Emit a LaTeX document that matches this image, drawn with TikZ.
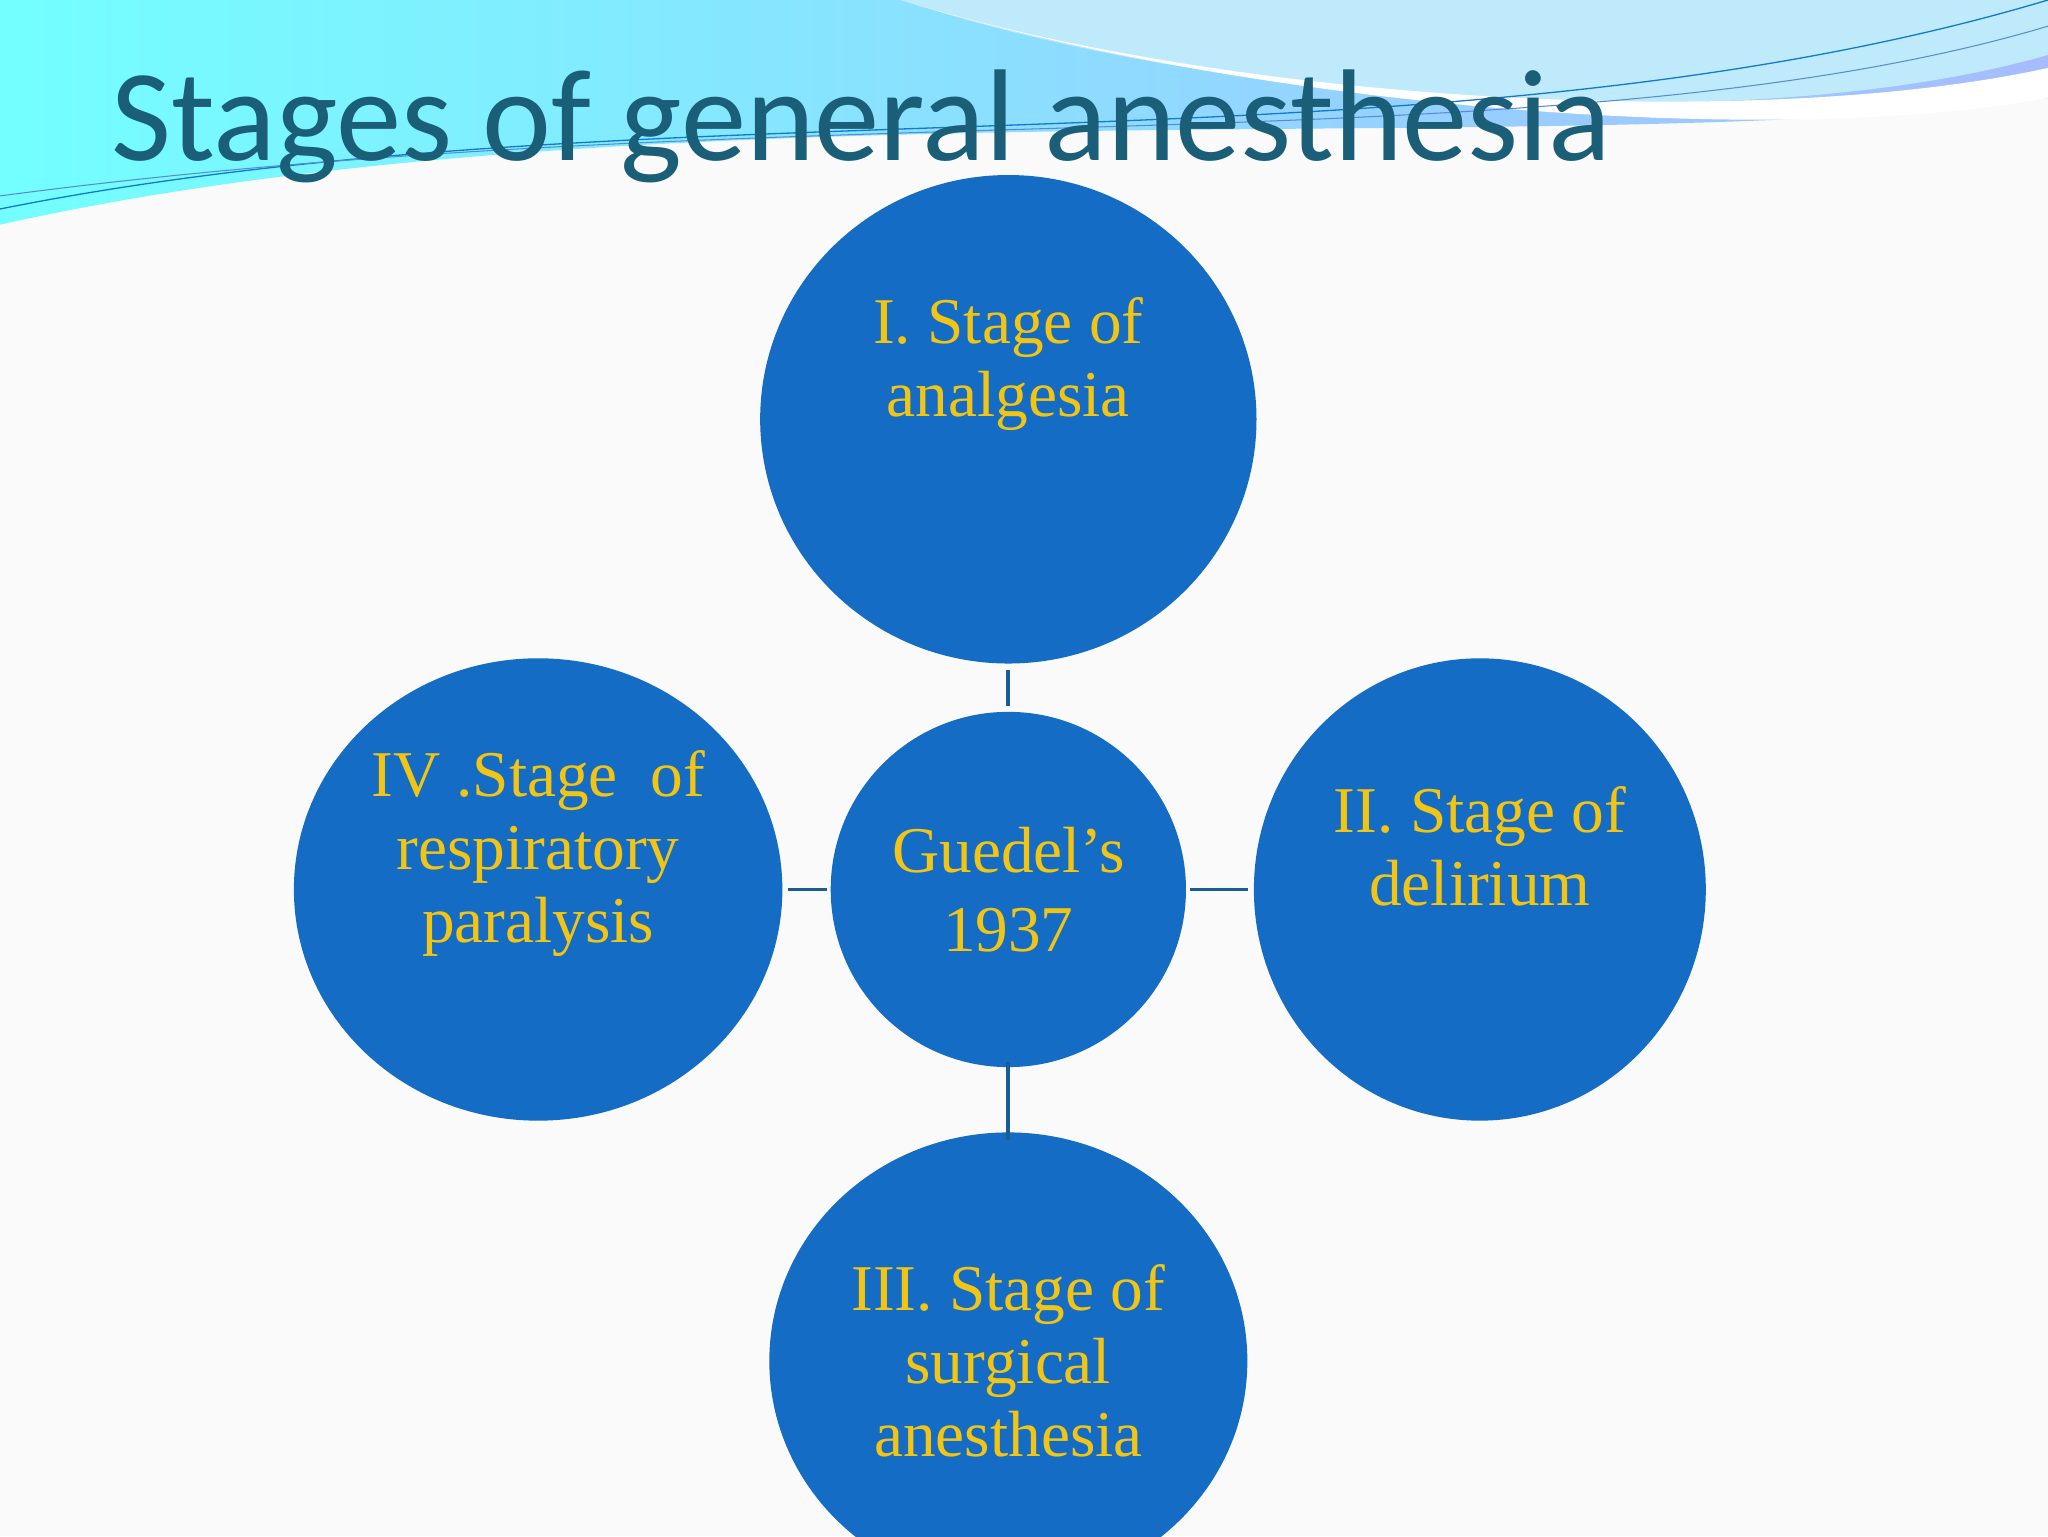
\documentclass[tikz,border=0pt]{standalone}
\usepackage{fontspec}
\setmainfont{Liberation Serif}
\newfontfamily\titlefont{Carlito}
\usetikzlibrary{shapes.geometric}
\definecolor{cblue}{HTML}{146CC4}
\definecolor{cyel}{HTML}{F2C414}
\definecolor{ctitle}{HTML}{1B5E78}
\definecolor{lineblue}{HTML}{1A5C96}
\tikzset{
 stage/.style={ellipse,fill=cblue,text=cyel,align=center,font=\fontsize{50}{56}\selectfont,inner sep=0pt},
 link/.style={draw=lineblue,line width=3pt}
}
\begin{document}
\begin{tikzpicture}[x=1pt,y=-1pt]
\useasboundingbox (0,0) rectangle (1568,1176);
\fill[white!96!gray] (0,0) rectangle (1568,1176);
\shade[left color=cyan!55!white,right color=cyan!25!blue!35!white]
 (0,0) -- (1568,0) -- (1568,75) .. controls (1200,125) and (500,60) .. (0,172) -- cycle;
\fill[cyan!25!white] (690,0) .. controls (950,85) and (1350,105) .. (1568,42) -- (1568,0) -- cycle;
\fill[white] (690,0) .. controls (950,80) and (1350,100) .. (1568,52) -- (1568,75) .. controls (1350,115) and (950,80) .. (690,0);
\draw[cyan!60!blue,line width=1pt] (0,160) .. controls (500,60) and (1100,140) .. (1568,0);
\draw[cyan!50!blue!70!white,line width=0.8pt] (0,150) .. controls (600,70) and (1200,130) .. (1568,20);
\node[font=\titlefont\fontsize{100}{110}\selectfont,text=ctitle,anchor=west] (title) at (82,97) {Stages of general anesthesia};
\node[stage,minimum width=380pt,minimum height=374pt] (s1) at (772,321) {I. Stage of\\analgesia\\[40pt]};
\node[stage,minimum width=272pt,minimum height=272pt] (c) at (772,681) {Guedel’s\\[4pt]1937};
\node[stage,minimum width=346pt,minimum height=354pt] (s2) at (1133,681) {II. Stage of\\delirium\\[10pt]};
\node[stage,minimum width=374pt,minimum height=354pt] (s4) at (412,681) {IV .Stage\ \ of\\respiratory\\paralysis\\[10pt]};
\node[stage,minimum width=366pt,minimum height=350pt] (s3) at (772,1042) {III. Stage of\\surgical\\anesthesia};
\draw[link] ([yshift=-5pt]s1.south) -- ([yshift=4pt]c.north);
\draw[link] ([yshift=4pt]c.south) -- ([yshift=-6pt]s3.north);
\draw[link] ([xshift=-3pt]c.west) -- ([xshift=4pt]s4.east);
\draw[link] ([xshift=3pt]c.east) -- ([xshift=-4pt]s2.west);
\end{tikzpicture}
\end{document}
